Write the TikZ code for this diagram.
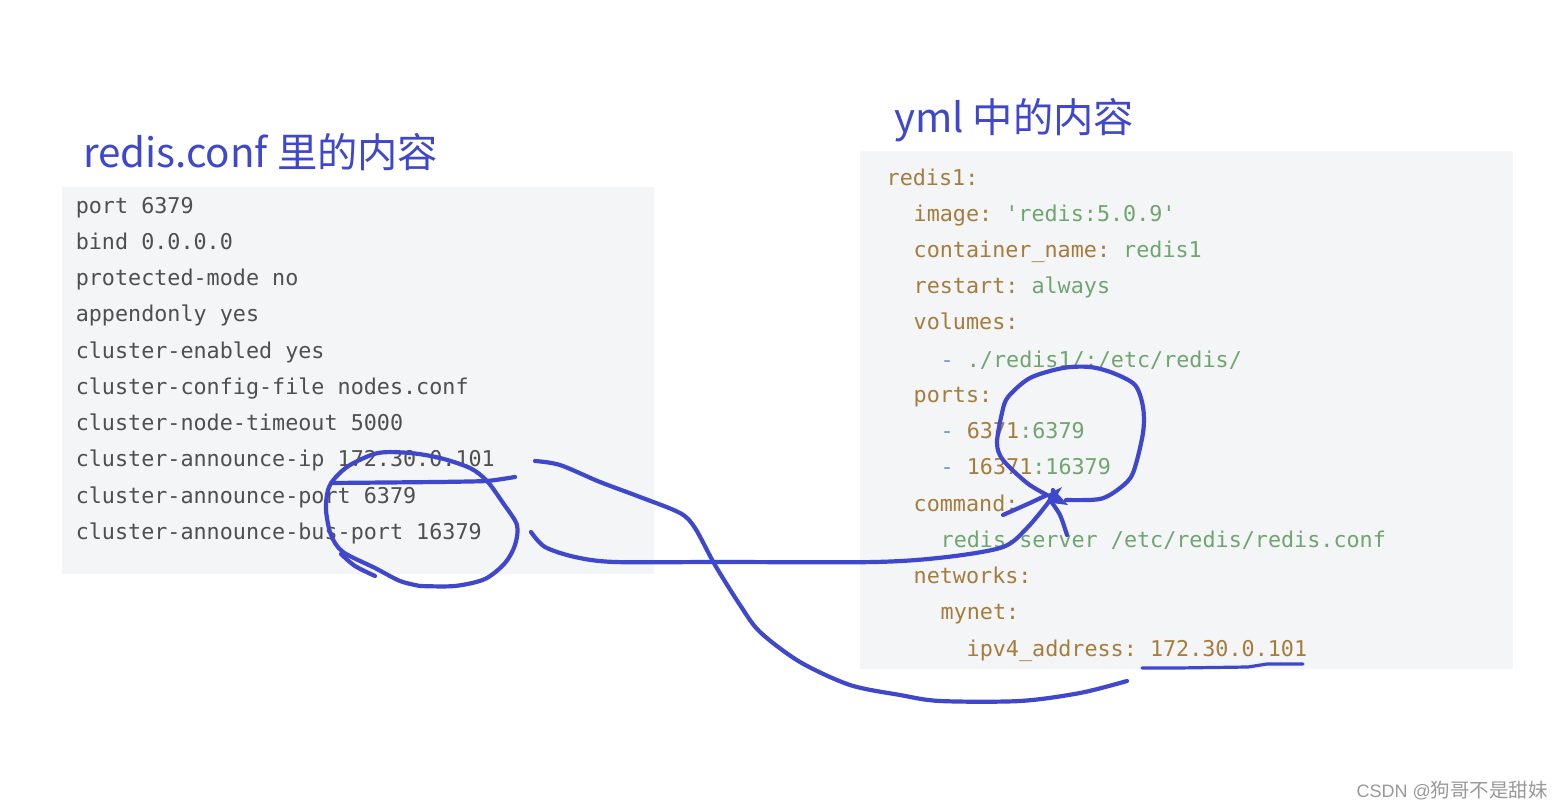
\documentclass[tikz,border=0pt]{standalone}
\usepackage{fontspec}
\setmainfont{Liberation Sans}
\setmonofont{DejaVu Sans Mono}
\newfontfamily\cjk{Noto Sans CJK SC}
\definecolor{panelbg}{HTML}{F4F5F7}
\definecolor{ink}{HTML}{3F48CC}
\definecolor{plain}{HTML}{4F4F4F}
\definecolor{ykey}{HTML}{A67C3C}
\definecolor{yval}{HTML}{6FA56F}
\definecolor{ydash}{HTML}{6A95E0}
\definecolor{mark}{HTML}{999999}
\tikzset{
  x=1pt,y=-1pt,
  panel/.style={fill=panelbg,draw=none},
  code/.style={anchor=base west,inner sep=0pt,font=\ttfamily\fontsize{21.75}{24}\selectfont},
  conf/.style={code,text=plain},
  key/.style={code,text=ykey},
  val/.style={code,text=yval},
  title/.style={anchor=base west,inner sep=0pt,text=ink,font=\cjk\fontsize{40.3}{44}\selectfont},
  pen/.style={draw=ink,line width=4.2pt,line cap=round,line join=round}
}
\newcommand{\KV}[2]{\textcolor{ykey}{#1}\textcolor{yval}{#2}}
\begin{document}
\begin{tikzpicture}
\useasboundingbox (0,0) rectangle (1564,810);
\fill[white] (0,0) rectangle (1564,810);
\fill[panel] (62,187) rectangle (654,574);
\fill[panel] (860,151) rectangle (1513,669);
\node[title] (t1) at (83,168) {redis.conf 里的内容};
\node[title] (t2) at (894,133) {yml 中的内容};
% left
\node[conf] (l1) at (75.6,214) {port 6379};
\node[conf] (l2) at (75.6,250) {bind 0.0.0.0};
\node[conf] (l3) at (75.6,286) {protected-mode no};
\node[conf] (l4) at (75.6,322) {appendonly yes};
\node[conf] (l5) at (75.6,359) {cluster-enabled yes};
\node[conf] (l6) at (75.6,394) {cluster-config-file nodes.conf};
\node[conf] (l7) at (75.6,430) {cluster-node-timeout 5000};
\node[conf] (l8) at (75.6,466) {cluster-announce-ip 172.30.0.101};
\node[conf] (l9) at (75.6,503) {cluster-announce-port 6379};
\node[conf] (l10) at (75.6,539) {cluster-announce-bus-port 16379};
% right
\node[key] (r1) at (886.5,186) {redis1:};
\node[key] (r2) at (913.5,222) {image: \textcolor{yval}{'redis:5.0.9'}};
\node[key] (r3) at (913.5,258) {container\_name: \textcolor{yval}{redis1}};
\node[key] (r4) at (913.5,294) {restart: \textcolor{yval}{always}};
\node[key] (r5) at (913.5,330) {volumes:};
\node[code] (r6) at (940.5,367) {\textcolor{ydash}{-} \textcolor{yval}{./redis1/:/etc/redis/}};
\node[key] (r7) at (913.5,402.5) {ports:};
\node[code] (r8) at (940.5,438.5) {\textcolor{ydash}{-} \KV{6371}{:6379}};
\node[code] (r9) at (940.5,474.5) {\textcolor{ydash}{-} \KV{16371}{:16379}};
\node[key] (r10) at (913.5,511.5) {command:};
\node[val] (r11) at (940.5,547.5) {redis-server /etc/redis/redis.conf};
\node[key] (r12) at (913.5,583.5) {networks:};
\node[key] (r13) at (940.5,619.5) {mynet:};
\node[key] (r14) at (966.5,656.5) {ipv4\_address: 172.30.0.101};
\node[anchor=base east,inner sep=0pt,text=mark,font=\fontsize{18}{22}\selectfont] (wm) at (1548,797) {CSDN @{\cjk\fontsize{19.5}{22}\selectfont 狗哥不是甜妹}};
% hand-drawn strokes
\draw[pen] plot[smooth,tension=0.5] coordinates {(420,586)(400,581)(375,568)(343,552)(331,535)(326,510)(328,490)(335,478)(350,465)(378,453)(410,453)(440,458)(470,468)(487,481)(503,503)(517,525)(515,545)(505,563)(485,579)(455,586)(420,586)};
\draw[pen] plot[smooth,tension=0.5] coordinates {(375,576)(355,566)(341,554)};
\draw[pen] plot[smooth,tension=0.3] coordinates {(331,483)(437,482)(487,481)(515,477)};
\draw[pen] plot[smooth,tension=0.5] coordinates {(535,461)(560,465)(600,482)(640,497)(680,513)(695,528)(715,565)(740,605)(760,632)(800,662)(850,685)(900,695)(940,701)(1020,701)(1080,693)(1127,681)};
\draw[pen] plot[smooth,tension=0.5] coordinates {(531,532)(545,547)(575,557)(615,562)(720,562)(875,562)(947,557)(1003,547)(1027,528)(1050,500)(1053,490)};
\draw[pen] plot[smooth,tension=0.5] coordinates {(1066,500)(1100,499)(1120,488)(1133,473)(1143,433)(1143,407)(1135,385)(1113,373)(1090,367)(1063,368)(1030,378)(1008,397)(1002,413)(997,443)(1003,460)(1027,483)(1047,495)};
\draw[pen] (1003,515) -- (1030,503) -- (1047,495);
\draw[pen] plot[smooth,tension=0.5] coordinates {(1067,535)(1060,515)(1050,500)};
\fill[ink] (1046,495) -- (1062,487) -- (1058,494) -- (1068,505) -- (1052,503) -- cycle;
\draw[pen,line width=3.2pt] (1142,668) -- (1178,668) -- (1248,667) -- (1267,664) -- (1303,664);
\end{tikzpicture}
\end{document}
